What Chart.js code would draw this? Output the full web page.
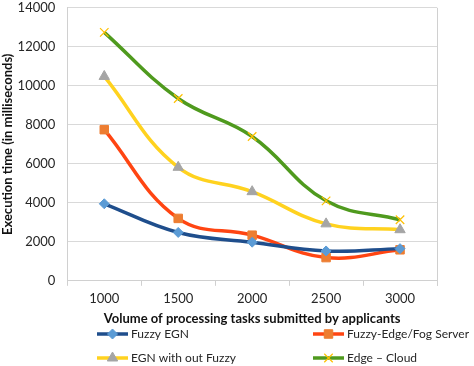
<!DOCTYPE html>
<html>
<head>
<meta charset="utf-8">
<script src="https://cdn.jsdelivr.net/npm/chart.js@4"></script>
<style>
  html, body { margin: 0; padding: 0; background: #fff; }
  #wrap { width: 474px; height: 366px; overflow: hidden; }
  #chart { display: block; margin-top: -12px; }
</style>
</head>
<body>
<div id="wrap"><canvas id="chart" width="474" height="378"></canvas></div>
<script>
const categories = ['1000', '1500', '2000', '2500', '3000'];
const fuzzyEgn = [3950, 2480, 1980, 1530, 1650];
const fuzzyEdgeFog = [7750, 3200, 2340, 1190, 1590];
const egnWithoutFuzzy = [10480, 5820, 4570, 2920, 2620];
const edgeCloud = [12740, 9350, 7400, 4100, 3130];
const seriesNames = ['Fuzzy EGN', 'Fuzzy-Edge/Fog Server', 'EGN with out Fuzzy', 'Edge \u2013 Cloud'];

const FONT = 'Lato, "Open Sans", sans-serif';
const TEXT = '#262626';

// legend drawn in two aligned columns below the axis title
const columnLegend = {
    id: 'columnLegend',
    afterDraw(chart) {
        const ctx = chart.ctx;
        const cols = [97, 313];
        const rows = [chart.height - 32, chart.height - 8];
        chart.data.datasets.forEach((ds, i) => {
            const x = cols[i % 2];
            const y = rows[Math.floor(i / 2)];
            ctx.save();
            ctx.strokeStyle = ds.borderColor;
            ctx.lineWidth = ds.borderWidth;
            ctx.beginPath();
            ctx.moveTo(x, y);
            ctx.lineTo(x + 31, y);
            ctx.stroke();
            ctx.fillStyle = ds.pointBackgroundColor;
            ctx.strokeStyle = ds.pointBorderColor;
            ctx.lineWidth = ds.pointBorderWidth;
            Chart.helpers.drawPoint(ctx, {
                pointStyle: ds.pointStyle,
                radius: ds.pointRadius,
                rotation: 0,
                borderWidth: ds.pointBorderWidth,
            }, x + 15.5, y);
            ctx.fillStyle = TEXT;
            ctx.font = '12px ' + FONT;
            ctx.textBaseline = 'middle';
            ctx.fillText(ds.label, x + 34, y);
            ctx.restore();
        });
    },
};

// plot area frame (right edge like the original)
const plotFrame = {
    id: 'plotFrame',
    beforeDatasetsDraw(chart) {
        const a = chart.chartArea;
        const ctx = chart.ctx;
        ctx.save();
        ctx.strokeStyle = '#d0d0d0';
        ctx.lineWidth = 1;
        ctx.beginPath();
        ctx.moveTo(a.right + 0.5, a.top);
        ctx.lineTo(a.right + 0.5, a.bottom + 5);
        ctx.stroke();
        ctx.restore();
    },
};

new Chart(document.getElementById('chart'), {
    type: 'line',
    data: {
        labels: categories,
        datasets: [
            {
                label: seriesNames[0],
                data: fuzzyEgn,
                borderColor: '#1f4e8c',
                borderWidth: 3.5,
                pointStyle: 'rectRot',
                pointRadius: 5,
                pointBackgroundColor: '#5b9bd5',
                pointBorderColor: '#5b9bd5',
                pointBorderWidth: 1,
                tension: 0.4,
            },
            {
                label: seriesNames[1],
                data: fuzzyEdgeFog,
                borderColor: '#ff4512',
                borderWidth: 3.5,
                pointStyle: 'rect',
                pointRadius: 6,
                pointBackgroundColor: '#ed7d31',
                pointBorderColor: '#ed7d31',
                pointBorderWidth: 1,
                tension: 0.4,
            },
            {
                label: seriesNames[2],
                data: egnWithoutFuzzy,
                borderColor: '#ffd21f',
                borderWidth: 3.5,
                pointStyle: 'triangle',
                pointRadius: 6,
                pointBackgroundColor: '#a5a5a5',
                pointBorderColor: '#a5a5a5',
                pointBorderWidth: 1,
                tension: 0.4,
            },
            {
                label: seriesNames[3],
                data: edgeCloud,
                borderColor: '#4f9a1e',
                borderWidth: 3.5,
                pointStyle: 'crossRot',
                pointRadius: 6,
                pointBackgroundColor: '#ffc000',
                pointBorderColor: '#ffc000',
                pointBorderWidth: 1.2,
                tension: 0.4,
            },
        ],
    },
    options: {
        responsive: false,
        animation: false,
        layout: { padding: { top: 0, right: 37, bottom: 39, left: 0 } },
        plugins: {
            legend: { display: false },
            tooltip: { enabled: false },
        },
        scales: {
            x: {
                offset: true,
                grid: {
                    offset: true,
                    drawOnChartArea: false,
                    drawTicks: true,
                    tickLength: 5,
                    color: '#d0d0d0',
                },
                border: { color: '#d0d0d0' },
                ticks: { color: TEXT, font: { family: FONT, size: 13 }, padding: 5 },
                title: {
                    display: true,
                    text: 'Volume of processing tasks submitted by applicants',
                    color: '#111',
                    font: { family: FONT, size: 13, weight: 'bold' },
                    padding: { top: 0, bottom: 0 },
                },
            },
            y: {
                min: 0,
                max: 14000,
                ticks: {
                    stepSize: 2000,
                    color: TEXT,
                    font: { family: FONT, size: 13 },
                    padding: 12,
                    callback: (v) => String(v),
                },
                grid: { color: '#d9d9d9', drawTicks: false },
                border: { color: '#d0d0d0' },
                title: {
                    display: true,
                    text: 'Execution time (in milliseconds)',
                    color: '#111',
                    font: { family: FONT, size: 13, weight: 'bold' },
                    padding: { top: 0, bottom: -10 },
                },
            },
        },
    },
    plugins: [plotFrame, columnLegend],
});
</script>
</body>
</html>
